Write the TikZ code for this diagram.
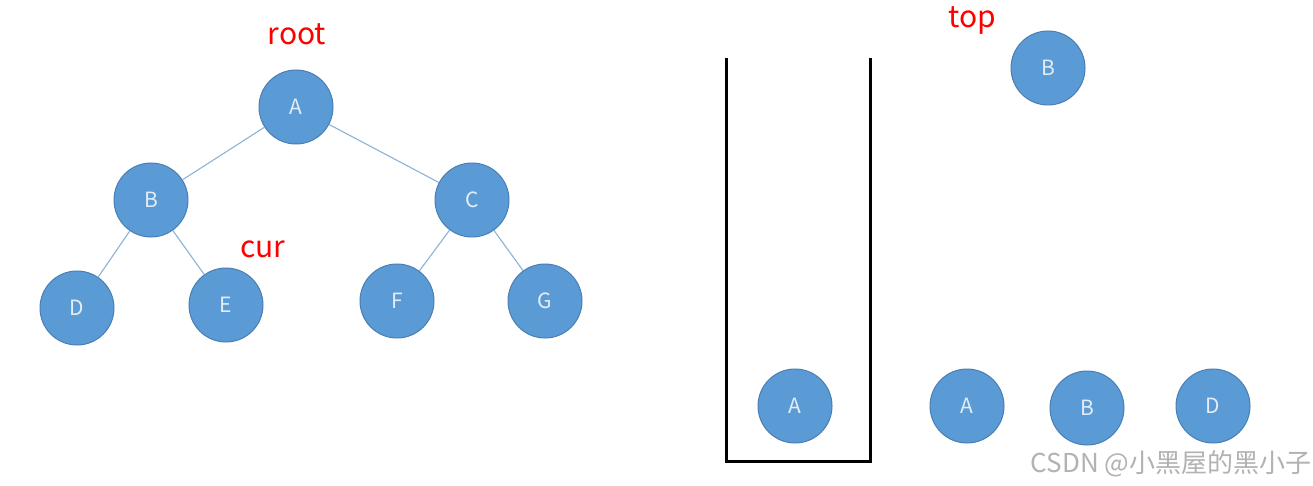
\documentclass[tikz,border=0pt]{standalone}
\usepackage{fontspec}
\setmainfont{Noto Sans CJK SC}
\newfontfamily\cjkf{Noto Sans CJK SC}
\begin{document}
\begin{tikzpicture}[x=1pt,y=-1pt,
  tnode/.style={circle,minimum size=74pt,inner sep=0pt,fill=nodeblue,draw=nodeedge,line width=1pt,text=nodetext,font=\fontsize{21}{21}\selectfont},
  edge/.style={draw=edgecol,line width=1.1pt},
  lab/.style={text=red,font=\fontsize{30}{30}\selectfont,inner sep=0pt},
  stackwall/.style={draw=black,line width=3pt}]
\definecolor{nodeblue}{HTML}{5B9BD5}
\definecolor{nodeedge}{HTML}{4A7EB3}
\definecolor{nodetext}{HTML}{E4EDF7}
\definecolor{edgecol}{HTML}{8DB3D6}
\useasboundingbox (0,0) rectangle (1313,486);
\fill[white] (0,0) rectangle (1313,486);
% tree
\node[tnode] (A) at (296,107) {A};
\node[tnode] (B) at (151,200) {B};
\node[tnode] (C) at (472,200) {C};
\node[tnode] (D) at (77,308) {D};
\node[tnode] (E) at (226,305) {E};
\node[tnode] (F) at (397,301) {F};
\node[tnode] (G) at (545,301) {G};
\draw[edge] (A) -- (B);
\draw[edge] (A) -- (C);
\draw[edge] (B) -- (D);
\draw[edge] (B) -- (E);
\draw[edge] (C) -- (F);
\draw[edge] (C) -- (G);
\node[lab] (root) at (297,34) {root};
\node[lab] (cur) at (263,249) {cur};
% stack
\coordinate (s1) at (726,58);
\coordinate (s2) at (726,461);
\coordinate (s3) at (870,461);
\coordinate (s4) at (870,58);
\draw[stackwall,line join=miter] (s1) -- (s2) -- (s3) -- (s4);
\node[tnode] (SA) at (795,406) {A};
% top and output
\node[lab] (top) at (972,20) {top};
\node[tnode] (TB) at (1048,68) {B};
\node[tnode] (OA) at (967,406) {A};
\node[tnode] (OB) at (1087,408) {B};
\node[tnode] (OD) at (1213,406) {D};
% watermark
\node[text=black!30,font=\cjkf\fontsize{26}{26}\selectfont,inner sep=0pt] (wm) at (1171,464) {CSDN @小黑屋的黑小子};
\end{tikzpicture}
\end{document}
